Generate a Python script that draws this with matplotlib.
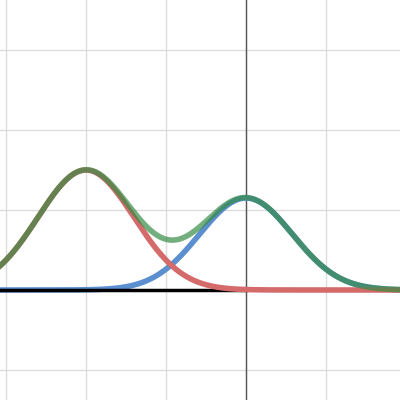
import numpy as np
import matplotlib
matplotlib.use("Agg")
import matplotlib.pyplot as plt

red_mu, red_sigma, red_amp = -2.0, 0.6, 1.5
blue_mu, blue_sigma, blue_amp = 0.0, 0.58, 1.15

x = np.linspace(-3.2, 2.1, 1000)
red = red_amp*np.exp(-(x-red_mu)**2/(2*red_sigma**2))
blue = blue_amp*np.exp(-(x-blue_mu)**2/(2*blue_sigma**2))
green = red+blue

fig = plt.figure(figsize=(4,4), dpi=100)
ax = fig.add_axes([0,0,1,1])
ax.set_xlim(-246/80, 154/80)
ax.set_ylim(-110/80, 290/80)
for gx in np.arange(-3,3):
    ax.axvline(gx, color='#dcdcdc', lw=1, zorder=0)
for gy in np.arange(-1,4):
    ax.axhline(gy, color='#dcdcdc', lw=1, zorder=0)
ax.axvline(0, color='#555555', lw=1, zorder=1)
ax.plot(x, blue, color='#5b8fd0', lw=4, solid_capstyle='round', zorder=2)
xb = x[x <= 0]
ax.plot(xb, np.zeros_like(xb), color='black', lw=2.5, zorder=3)
ax.plot(x, red, color='#d46a6a', lw=4, zorder=4)
ax.plot(x, green, color='#388c46', lw=4, alpha=0.7, zorder=5)
ax.axis('off')
fig.savefig('out.png', dpi=100)
